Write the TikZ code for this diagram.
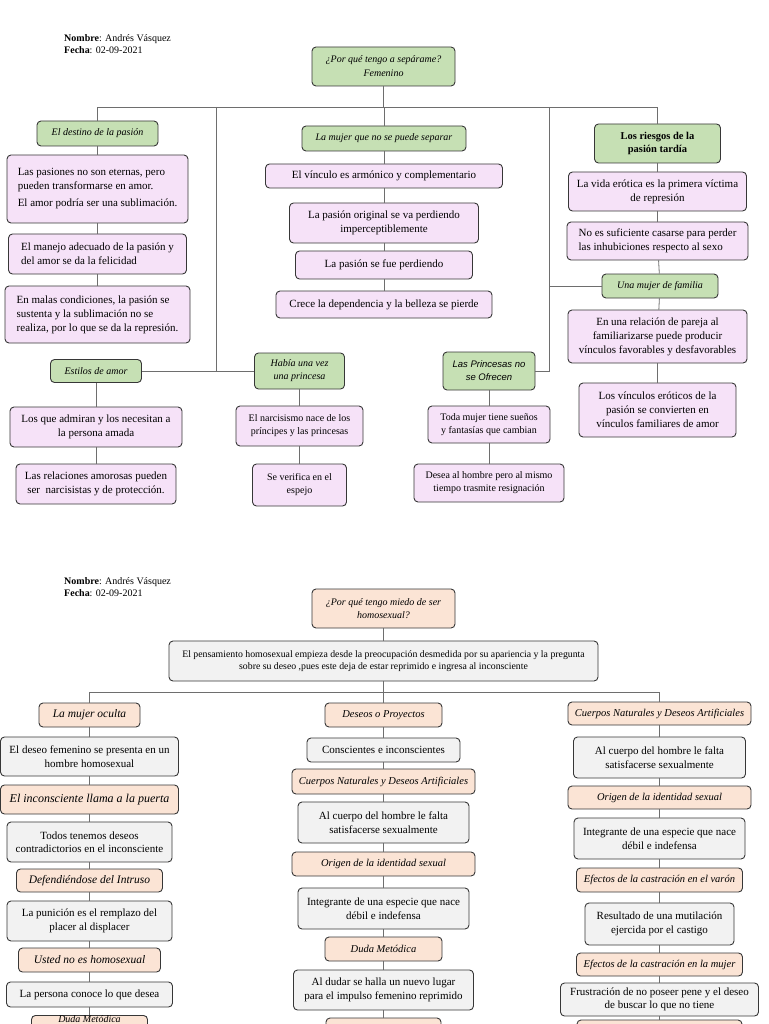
\documentclass[tikz,border=0pt]{standalone}
\usepackage{fontspec}
\setmainfont{Liberation Serif}
\newfontfamily\princfont{Liberation Sans}

\definecolor{verde}{RGB}{198,224,180}
\definecolor{rosa}{RGB}{246,226,248}
\definecolor{durazno}{RGB}{251,228,213}
\definecolor{gris}{RGB}{242,242,242}
\definecolor{borde}{RGB}{55,55,55}
\definecolor{linea}{RGB}{110,110,110}

\begin{document}
\begin{tikzpicture}[x=1pt,y=-1pt,
    box/.style={rectangle,rounded corners=4pt,draw=borde,line width=0.9pt,inner sep=2pt,align=center},
    sz/.style 2 args={minimum width=#1pt,minimum height=#2pt},
    green node/.style={box,fill=verde,font=\fontsize{10}{13}\selectfont\itshape},
    pink node/.style={box,fill=rosa,font=\fontsize{11}{14}\selectfont},
    peach node/.style={box,fill=durazno,font=\fontsize{10.5}{13}\selectfont\itshape},
    gray node/.style={box,fill=gris,font=\fontsize{11}{13.5}\selectfont},
    conn/.style={draw=linea,line width=0.8pt}]

    \useasboundingbox (0,0) rectangle (768,1024);
    \clip (0,0) rectangle (768,1024);

    % hoja 1
    \node[anchor=north west,align=left,inner sep=2pt,font=\fontsize{10}{12}\selectfont] (nom1) at (62,32) {\textbf{Nombre}: Andrés Vásquez\\\textbf{Fecha}: 02-09-2021};
    \node[green node,sz={143}{39},font=\fontsize{10}{14}\selectfont\itshape] (t0) at (383.5,66.5) {¿Por qué tengo a sepárame?\\Femenino};
    \coordinate (bus1) at (383.5,107);
    \coordinate (v1) at (216,107);
    \coordinate (v2) at (549.5,107);

    \node[green node,sz={121}{25}] (d0) at (97.5,133.5) {El destino de la pasión};
    \node[pink node,sz={181}{68},align=left] (d1) at (97.5,189) {Las pasiones no son eternas, pero\\pueden transformarse en amor.\\[3pt]El amor podría ser una sublimación.};
    \node[pink node,sz={178}{40},align=left] (d2) at (97.5,254) {El manejo adecuado de la pasión y\\del amor se da la felicidad};
    \node[pink node,sz={185}{57},align=left] (d3) at (97.5,314.5) {En malas condiciones, la pasión se\\sustenta y la sublimación no se\\realiza, por lo que se da la represión.};

    \node[green node,sz={91}{23}] (e0) at (96,371) {Estilos de amor};
    \node[pink node,sz={172}{40}] (e1) at (96,427) {Los que admiran y los necesitan a\\la persona amada};
    \node[pink node,sz={160}{40}] (e2) at (96,484) {Las relaciones amorosas pueden\\ser\ \ narcisistas y de protección.};

    \node[green node,sz={90}{36}] (h0) at (299.5,371) {Había una vez\\una princesa};
    \node[pink node,sz={127}{40},font=\fontsize{10}{13}\selectfont] (h1) at (299.5,426) {El narcisismo nace de los\\príncipes y las princesas};
    \node[pink node,sz={94}{42},font=\fontsize{10}{13}\selectfont] (h2) at (299.5,485) {Se verifica en el\\espejo};

    \node[green node,sz={164}{25}] (m0) at (384,138.5) {La mujer que no se puede separar};
    \node[pink node,sz={237}{24}] (m1) at (384,176) {El vínculo es armónico y complementario};
    \node[pink node,sz={189}{40}] (m2) at (384,223) {La pasión original se va perdiendo\\imperceptiblemente};
    \node[pink node,sz={177}{28}] (m3) at (384,265) {La pasión se fue perdiendo};
    \node[pink node,sz={216}{27}] (m4) at (384,304.5) {Crece la dependencia y la belleza se pierde};

    \node[green node,sz={92}{38},font=\fontsize{9.5}{13}\princfont\itshape] (p0) at (489,371) {Las Princesas no\\se Ofrecen};
    \node[pink node,sz={122}{37},font=\fontsize{10}{13}\selectfont] (p1) at (489,424.5) {Toda mujer tiene sueños\\y fantasías que cambian};
    \node[pink node,sz={150}{38},font=\fontsize{10}{13}\selectfont] (p2) at (489,483) {Desea al hombre pero al mismo\\tiempo trasmite resignación};

    \node[green node,sz={126}{39},font=\fontsize{10.5}{13}\selectfont\bfseries] (r0) at (657.5,143.5) {Los riesgos de la\\pasión tardía};
    \node[pink node,sz={178}{39}] (r1) at (657.5,191.5) {La vida erótica es la primera víctima\\de represión};
    \node[pink node,sz={181}{38},align=left] (r2) at (657.5,241) {No es suficiente casarse para perder\\las inhubiciones respecto al sexo};
    \node[green node,sz={116}{24}] (f0) at (660,286) {Una mujer de familia};
    \node[pink node,sz={179}{53}] (f1) at (657.5,336.5) {En una relación de pareja al\\familiarizarse puede producir\\vínculos favorables y desfavorables};
    \node[pink node,sz={157}{54}] (f2) at (657.5,410) {Los vínculos eróticos de la\\pasión se convierten en\\vínculos familiares de amor};

    \draw[conn] (t0) -- (t0 |- bus1);
    \draw[conn] (d0) |- (r0 |- bus1) -- (r0);
    \draw[conn] (m0) -- (m0 |- bus1);
    \draw[conn] (v1) -- (v1 |- e0);
    \draw[conn] (e0) -- (h0);
    \draw[conn] (v2) |- (p0);
    \draw[conn] (f0) -- (f0 -| v2);
    \foreach \a/\b in {d0/d1,d1/d2,d2/d3,e0/e1,e1/e2,h0/h1,h1/h2,m0/m1,m1/m2,m2/m3,m3/m4,p0/p1,p1/p2,r0/r1,r1/r2,r2/f0,f0/f1,f1/f2}
        \draw[conn] (\a) -- (\b);

    % hoja 2
    \node[anchor=north west,align=left,inner sep=2pt,font=\fontsize{10}{12}\selectfont] (nom2) at (62,575) {\textbf{Nombre}: Andrés Vásquez\\\textbf{Fecha}: 02-09-2021};
    \node[peach node,sz={143}{39},font=\fontsize{10}{13}\selectfont\itshape] (u0) at (383.5,608.5) {¿Por qué tengo miedo de ser\\homosexual?};
    \node[gray node,sz={429}{40},font=\fontsize{9.8}{12}\selectfont] (u1) at (383.5,661) {El pensamiento homosexual empieza desde la preocupación desmedida por su apariencia y la pregunta\\sobre su deseo ,pues este deja de estar reprimido e ingresa al inconsciente};
    \coordinate (bus2) at (383.5,692);

    \node[peach node,sz={101}{24},font=\fontsize{11.5}{13}\selectfont\itshape] (a0) at (89.5,715) {La mujer oculta};
    \node[gray node,sz={178}{39}] (a1) at (89.5,756.5) {El deseo femenino se presenta en un\\hombre homosexual};
    \node[peach node,sz={178}{29},font=\fontsize{12}{14}\selectfont\itshape] (a2) at (89.5,799.5) {El inconsciente llama a la puerta};
    \node[gray node,sz={165}{40}] (a3) at (89.5,842) {Todos tenemos deseos\\contradictorios en el inconsciente};
    \node[peach node,sz={146}{23},font=\fontsize{11.5}{14}\selectfont\itshape] (a4) at (89.5,880.5) {Defendiéndose del Intruso};
    \node[gray node,sz={165}{40}] (a5) at (89.5,921) {La punición es el remplazo del\\placer al displacer};
    \node[peach node,sz={142}{24},font=\fontsize{11.5}{14}\selectfont\itshape] (a6) at (89.5,960) {Usted no es homosexual};
    \node[gray node,sz={166}{25}] (a7) at (89.5,994.5) {La persona conoce lo que desea};
    \node[peach node,anchor=north,minimum width=116pt,inner ysep=0.5pt,text depth=16pt,font=\fontsize{10}{12}\selectfont\itshape] (a8) at (89.5,1015) {Duda Metódica};

    \node[peach node,sz={117}{24}] (b0) at (383.5,715) {Deseos o Proyectos};
    \node[gray node,sz={153}{24}] (b1) at (383.5,750) {Conscientes e inconscientes};
    \node[peach node,sz={183}{25}] (b2) at (383.5,781.5) {Cuerpos Naturales y Deseos Artificiales};
    \node[gray node,sz={171}{41}] (b3) at (383.5,822.5) {Al cuerpo del hombre le falta\\satisfacerse sexualmente};
    \node[peach node,sz={183}{24}] (b4) at (383.5,864) {Origen de la identidad sexual};
    \node[gray node,sz={171}{41}] (b5) at (383.5,908.5) {Integrante de una especie que nace\\débil e indefensa};
    \node[peach node,sz={117}{24}] (b6) at (383.5,949) {Duda Metódica};
    \node[gray node,sz={180}{40}] (b7) at (383.5,990) {Al dudar se halla un nuevo lugar\\para el impulso femenino reprimido};
    \node[peach node,sz={115}{30}] (b8) at (383.5,1033) {};

    \node[peach node,sz={183}{23}] (c0) at (659.5,713.5) {Cuerpos Naturales y Deseos Artificiales};
    \node[gray node,sz={172}{41}] (c1) at (659.5,757.5) {Al cuerpo del hombre le falta\\satisfacerse sexualmente};
    \node[peach node,sz={183}{23}] (c2) at (659.5,797.5) {Origen de la identidad sexual};
    \node[gray node,sz={171}{41}] (c3) at (659.5,838.5) {Integrante de una especie que nace\\débil e indefensa};
    \node[peach node,sz={166}{24}] (c4) at (659.5,880) {Efectos de la castración en el varón};
    \node[gray node,sz={149}{42}] (c5) at (659.5,924) {Resultado de una mutilación\\ejercida por el castigo};
    \node[peach node,sz={166}{23}] (c6) at (659.5,964.5) {Efectos de la castración en la mujer};
    \node[gray node,sz={198}{33},font=\fontsize{11}{13}\selectfont] (c7) at (659.5,999.5) {Frustración de no poseer pene y el deseo\\de buscar lo que no tiene};
    \node[peach node,sz={165}{30}] (c8) at (659.5,1035) {};

    \draw[conn] (u0) -- (u1);
    \draw[conn] (u1) -- (u1 |- bus2);
    \draw[conn] (a0) |- (c0 |- bus2) -- (c0);
    \draw[conn] (b0) -- (b0 |- bus2);
    \foreach \a/\b in {a0/a1,a1/a2,a2/a3,a3/a4,a4/a5,a5/a6,a6/a7,a7/a8,b0/b1,b1/b2,b2/b3,b3/b4,b4/b5,b5/b6,b6/b7,b7/b8,c0/c1,c1/c2,c2/c3,c3/c4,c4/c5,c5/c6,c6/c7,c7/c8}
        \draw[conn] (\a) -- (\b);
\end{tikzpicture}
\end{document}
